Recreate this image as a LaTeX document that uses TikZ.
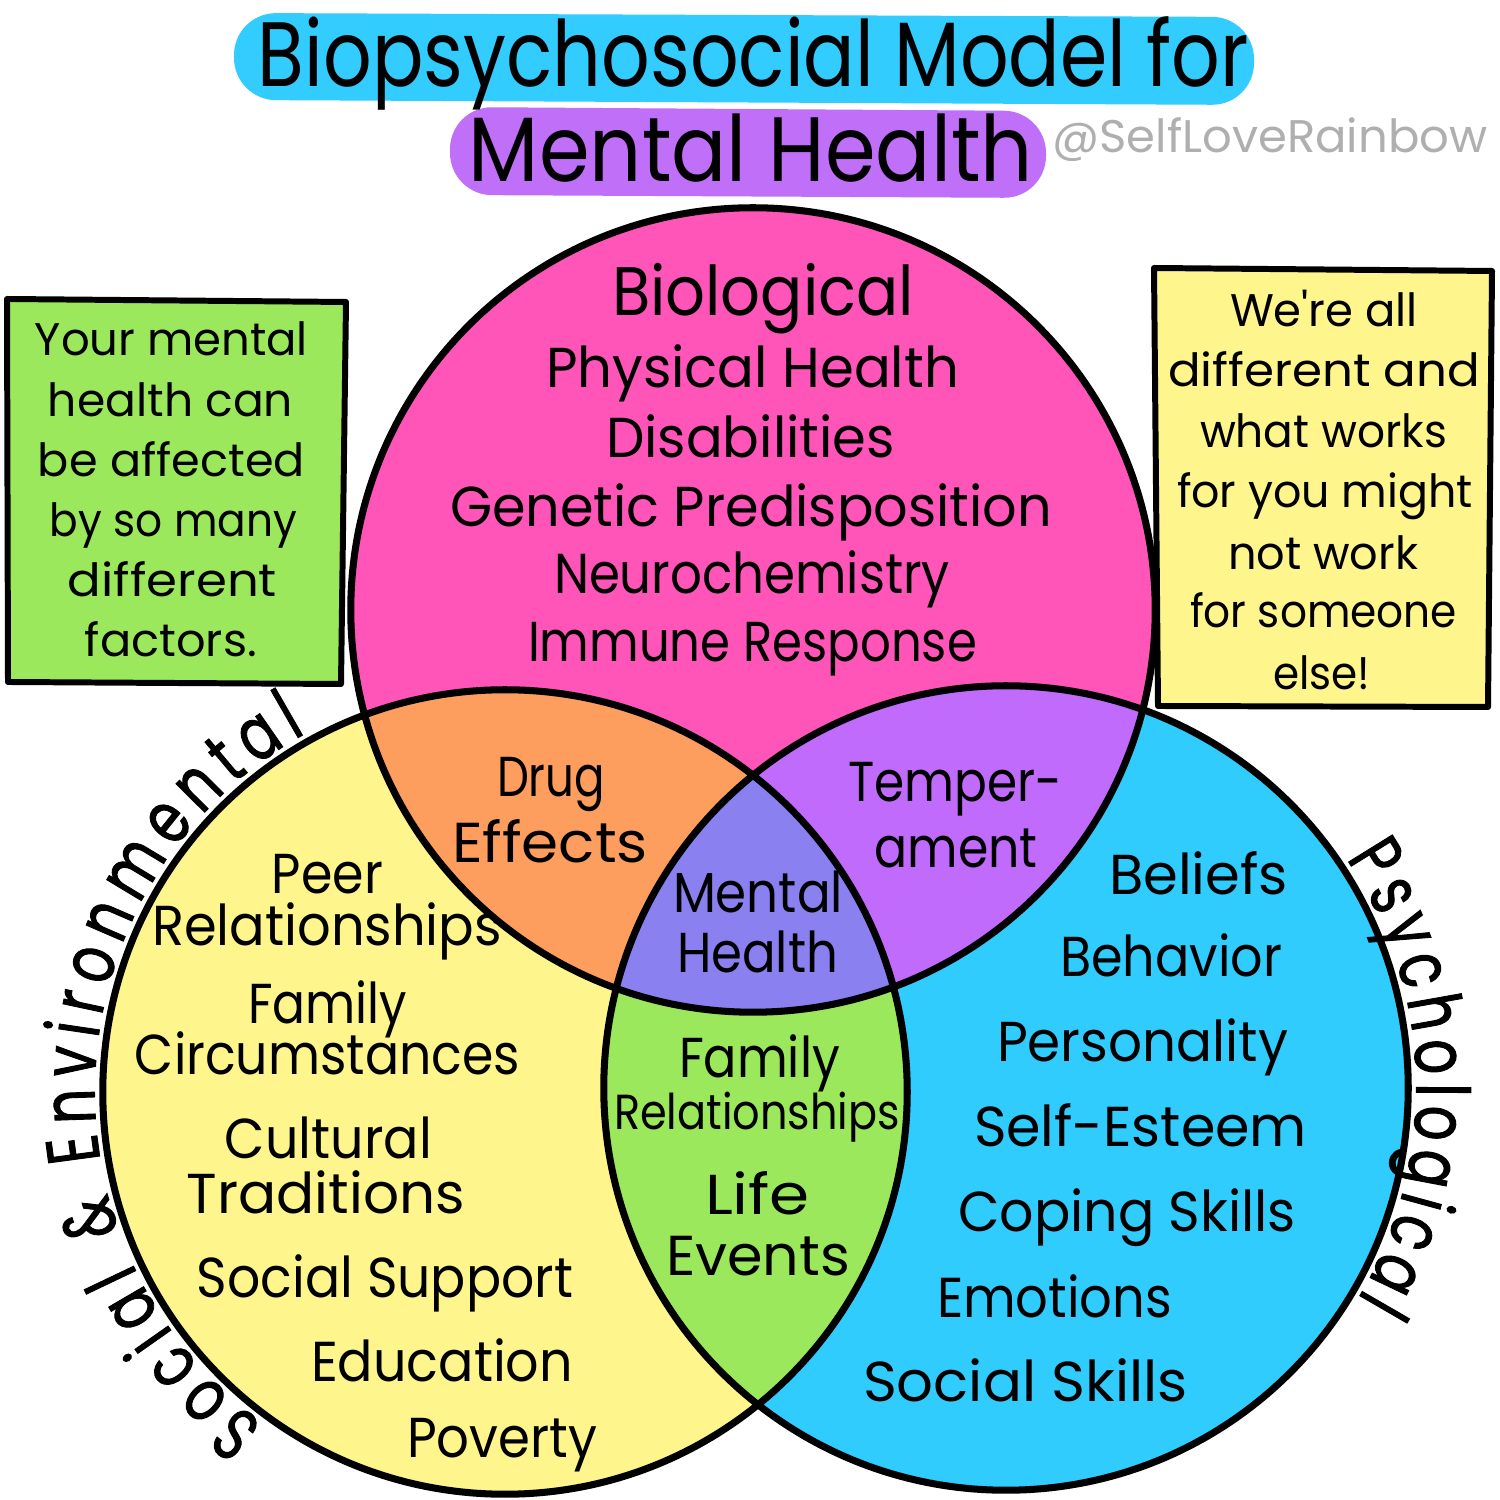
\documentclass[tikz,border=0pt]{standalone}
\usepackage{fontspec}
\usepackage{graphicx}
\setmainfont{Poppins}
\newfontfamily\hand{Poppins}
\newfontfamily\curvehand[FakeStretch=0.74,FakeBold=1.2]{Poppins}
\usetikzlibrary{decorations.text,calc}
\definecolor{cpink}{HTML}{FF55B8}
\definecolor{cyel}{HTML}{FEF58C}
\definecolor{cblue}{HTML}{31CCFE}
\definecolor{corange}{HTML}{FE9E5E}
\definecolor{cpurple}{HTML}{C06BFB}
\definecolor{cviolet}{HTML}{8A80F0}
\definecolor{cgreen}{HTML}{9CE85C}
\definecolor{ctitle}{HTML}{33CCFF}
\definecolor{ctitlep}{HTML}{C070F8}
\definecolor{cgray}{HTML}{AFAFAF}
\newlength\upx \setlength\upx{0.01cm}
\newcommand\fitw[2]{\resizebox{#1\upx}{\height}{#2}}
\newcommand\itemfont{\hand\fontsize{16pt}{19pt}\selectfont}
\newcommand\biofont{\hand\fontsize{19.5pt}{23pt}\selectfont}
\newcommand\boxfont{\hand\fontsize{13pt}{16pt}\selectfont}
\newcommand\titlefont{\hand\fontsize{26pt}{30pt}\selectfont}
\newcommand\curvefont{\curvehand\fontsize{21pt}{25pt}\selectfont}
\tikzset{
  lbl/.style={inner sep=0pt, anchor=base, font=\itemfont},
  boxtxt/.style={inner sep=0pt, anchor=base, font=\boxfont},
  ttl/.style={inner sep=0pt, anchor=base, font=\titlefont},
  ring/.style={line width=2pt, draw=black},
  notebox/.style={line width=1.7pt, draw=black, line join=round},
}
\begin{document}
\begin{tikzpicture}[x=0.01cm, y=0.01cm]
\useasboundingbox (0,0) rectangle (1500,1500);
\fill[white] (0,0) rectangle (1500,1500);
% title
\fill[ctitle, rounded corners=0.42cm] (234,1487) -- (1254,1483) -- (1254,1395) -- (234,1400) -- cycle;
\fill[ctitlep, rounded corners=0.42cm] (450,1393) -- (1046,1389) -- (1046,1302) -- (450,1305) -- cycle;
\node[ttl] (t1) at (753.5,1413) {\fitw{991}{Biopsychosocial Model for}};
\node[ttl] (t2) at (751,1318) {\fitw{564}{Mental Health}};
\node[boxtxt, text=cgray] (handle) at (1270,1347) {\fitw{435}{@SelfLoveRainbow}};
% note boxes
\filldraw[notebox, fill=cgreen] (7,1201) -- (346,1198) -- (341,816) -- (8,818) -- cycle;
\filldraw[notebox, fill=cyel] (1154,1232) -- (1492,1229) -- (1488,793) -- (1158,794) -- cycle;
\node[boxtxt] (g1) at (171.5,1144) {\fitw{273}{Your mental}};
\node[boxtxt] (g2) at (170.5,1083) {\fitw{245}{health can}};
\node[boxtxt] (g3) at (171.5,1023) {\fitw{267}{be affected}};
\node[boxtxt] (g4) at (173.5,963) {\fitw{247}{by so many}};
\node[boxtxt] (g5) at (172.5,903) {\fitw{209}{different}};
\node[boxtxt] (g6) at (171,843) {\fitw{172}{factors.}};
\node[boxtxt] (y1) at (1324,1173) {\fitw{188}{We're all}};
\node[boxtxt] (y2) at (1324,1113) {\fitw{312}{different and}};
\node[boxtxt] (y3) at (1323.5,1052) {\fitw{247}{what works}};
\node[boxtxt] (y4) at (1325,992) {\fitw{296}{for you might}};
\node[boxtxt] (y5) at (1323,930) {\fitw{190}{not work}};
\node[boxtxt] (y6) at (1323.5,872) {\fitw{267}{for someone}};
\node[boxtxt] (y7) at (1321.5,810) {\fitw{97}{else!}};
% circles
\coordinate (CB) at (753,890);
\coordinate (CL) at (505,408);
\coordinate (CR) at (1006,412);
\def\R{4.02cm}
\fill[cpink] (CB) circle[radius=\R];
\fill[cyel] (CL) circle[radius=\R];
\fill[cblue] (CR) circle[radius=\R];
\begin{scope}
  \clip (CB) circle[radius=\R];
  \fill[corange] (CL) circle[radius=\R];
  \fill[cpurple] (CR) circle[radius=\R];
  \clip (CL) circle[radius=\R];
  \fill[cviolet] (CR) circle[radius=\R];
\end{scope}
\begin{scope}
  \clip (CL) circle[radius=\R];
  \clip (CR) circle[radius=\R];
  \fill[cgreen] (0,0) rectangle (1500,1500);
  \clip (CB) circle[radius=\R];
  \fill[cviolet] (0,0) rectangle (1500,1500);
\end{scope}
\draw[ring] (CB) circle[radius=\R];
\draw[ring] (CL) circle[radius=\R];
\draw[ring] (CR) circle[radius=\R];
% biological
\node[lbl, font=\biofont] (bio) at (763,1184) {\fitw{302}{Biological}};
\node[lbl] (b1) at (752.5,1112) {\fitw{413}{Physical Health}};
\node[lbl] (b2) at (750.5,1042) {\fitw{289}{Disabilities}};
\node[lbl] (b3) at (751,973) {\fitw{602}{Genetic Predisposition}};
\node[lbl] (b4) at (752,906) {\fitw{396}{Neurochemistry}};
\node[lbl] (b5) at (752.5,838) {\fitw{449}{Immune Response}};
% intersections
\node[lbl] (o1) at (551,703) {\fitw{108}{Drug}};
\node[lbl] (o2) at (550,637) {\fitw{196}{Effects}};
\node[lbl] (p1) at (955,698) {\fitw{214}{Temper-}};
\node[lbl] (p2) at (956,632) {\fitw{163}{ament}};
\node[lbl] (m1) at (758,587) {\fitw{170}{Mental}};
\node[lbl] (m2) at (757.5,527) {\fitw{161}{Health}};
\node[lbl] (f1) at (759.5,422) {\fitw{161}{Family}};
\node[lbl, font=\hand\fontsize{14pt}{17pt}\selectfont] (f2) at (757,370) {\fitw{286}{Relationships}};
\node[lbl] (f3) at (757.5,285) {\fitw{105}{Life}};
\node[lbl] (f4) at (758,224) {\fitw{184}{Events}};
% social
\node[lbl] (s1) at (327.5,606) {\fitw{111}{Peer}};
\node[lbl] (s2) at (327,554) {\fitw{350}{Relationships}};
\node[lbl] (s3) at (327.5,476) {\fitw{159}{Family}};
\node[lbl] (s4) at (327.5,425) {\fitw{385}{Circumstances}};
\node[lbl] (s5) at (328.5,341) {\fitw{207}{Cultural}};
\node[lbl] (s6) at (326,286) {\fitw{278}{Traditions}};
\node[lbl] (s7) at (385,202) {\fitw{376}{Social Support}};
\node[lbl] (s8) at (442,118) {\fitw{262}{Education}};
\node[lbl] (s9) at (502,42) {\fitw{190}{Poverty}};
% psychological
\node[lbl] (q1) at (1198.5,605) {\fitw{179}{Beliefs}};
\node[lbl] (q2) at (1171,523) {\fitw{222}{Behavior}};
\node[lbl] (q3) at (1142.5,438) {\fitw{291}{Personality}};
\node[lbl] (q4) at (1140.5,353) {\fitw{333}{Self-Esteem}};
\node[lbl] (q5) at (1127,268) {\fitw{338}{Coping Skills}};
\node[lbl] (q6) at (1054.5,182) {\fitw{235}{Emotions}};
\node[lbl] (q7) at (1025.5,98) {\fitw{325}{Social Skills}};
% curved labels
\path[decorate, decoration={text along path, text={|\curvefont|Social {\&} Environmental}, text align={fit to path}}]
  ($(CL)+(234:4.10cm)$) arc[start angle=234, end angle=119, radius=4.10cm];
\path[decorate, decoration={text along path, text={|\curvefont|Psychological}, text align={fit to path}}]
  ($(CR)+(34:4.10cm)$) arc[start angle=34, end angle=-31, radius=4.10cm];
\end{tikzpicture}
\end{document}
